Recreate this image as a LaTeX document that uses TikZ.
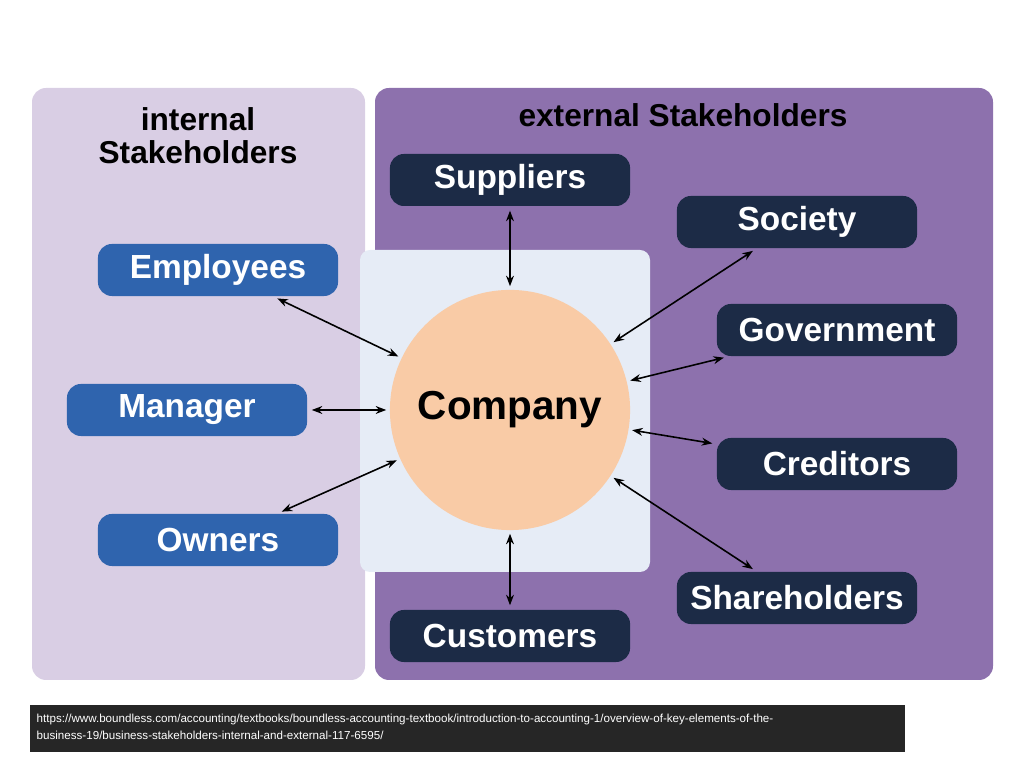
\documentclass[tikz,border=0pt]{standalone}
\usepackage{fontspec}
\setmainfont{Liberation Sans}
\usetikzlibrary{positioning,arrows.meta}
\definecolor{inbg}{HTML}{D9CEE4}
\definecolor{exbg}{HTML}{8D71AD}
\definecolor{midbg}{HTML}{E6ECF6}
\definecolor{peach}{HTML}{F9CBA6}
\definecolor{inpill}{HTML}{2F64AE}
\definecolor{expill}{HTML}{1C2B46}
\begin{document}
\begin{tikzpicture}[x=0.01cm,y=-0.01cm,
  inner sep=0pt,
  inbox/.style={rounded corners=0.14cm,fill=inpill,minimum width=2.4cm,minimum height=0.52cm,text=white,font=\bfseries\fontsize{9.5}{10}\selectfont},
  exbox/.style={rounded corners=0.14cm,fill=expill,minimum width=2.4cm,minimum height=0.52cm,text=white,font=\bfseries\fontsize{9.5}{10}\selectfont},
  link/.style={{Stealth[length=3pt]}-{Stealth[length=3pt]},line width=0.45pt,shorten <=0.04cm,shorten >=0.03cm}
]
\useasboundingbox (0,0) rectangle (1024,768);
\fill[inbg,rounded corners=0.14cm] (32,88) rectangle (365,680);
\fill[exbg,rounded corners=0.14cm] (375,88) rectangle (993,680);
\fill[midbg,rounded corners=0.1cm] (360,250) rectangle (650,572);
\node[font=\bfseries\fontsize{9}{9.5}\selectfont,align=center] (intitle) at (198,136) {internal\\Stakeholders};
\node[font=\bfseries\fontsize{9}{9.5}\selectfont] (extitle) at (683,115) {external Stakeholders};
\node[circle,fill=peach,minimum size=2.4cm,font=\bfseries\fontsize{11.5}{12}\selectfont] (company) at (510,410) {Company};
% internal
\node[inbox] (employees) at (218,270) {Employees};
\node[inbox] (manager) at (187,410) {Manager};
\node[inbox] (owners) at (218,540) {Owners};
% external
\node[exbox] (suppliers) at (510,180) {Suppliers};
\node[exbox] (society) at (797,222) {Society};
\node[exbox] (government) at (837,330) {Government};
\node[exbox] (creditors) at (837,464) {Creditors};
\node[exbox] (shareholders) at (797,598) {Shareholders};
\node[exbox] (customers) at (510,636) {Customers};
\draw[link] (employees) -- (company);
\draw[link] (manager) -- (company);
\draw[link] (owners) -- (company);
\draw[link] (suppliers) -- (company);
\draw[link] (society) -- (company);
\draw[link] (government) -- (company);
\draw[link] (creditors) -- (company);
\draw[link] (shareholders) -- (company);
\draw[link] (customers) -- (company);
\fill[black!85] (30,705) rectangle (905,752);
\node[text=white,align=left,anchor=north west,font=\fontsize{3.3}{5}\selectfont] (url) at (36,713) {https://www.boundless.com/accounting/textbooks/boundless-accounting-textbook/introduction-to-accounting-1/overview-of-key-elements-of-the-\\business-19/business-stakeholders-internal-and-external-117-6595/};
\end{tikzpicture}
\end{document}
